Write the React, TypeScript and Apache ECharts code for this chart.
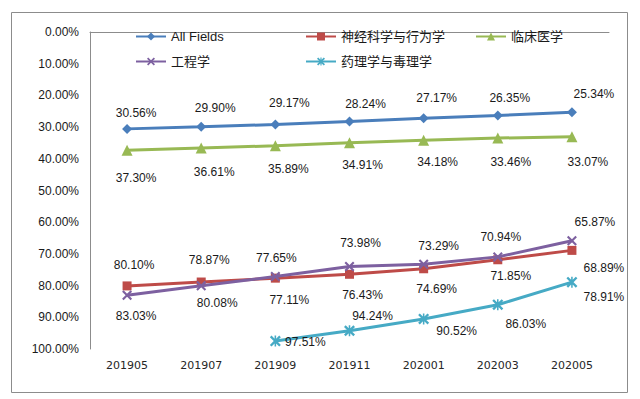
import React, { useEffect, useRef } from "react";
import * as echarts from "echarts";

const categories = ["201905", "201907", "201909", "201911", "202001", "202003", "202005"];
const seriesNames = ["All Fields", "神经科学与行为学", "临床医学", "工程学", "药理学与毒理学"];
const allFields = [30.56, 29.9, 29.17, 28.24, 27.17, 26.35, 25.34];
const neuro = [80.1, 78.87, 77.65, 76.43, 74.69, 71.85, 68.89];
const clinical = [37.3, 36.61, 35.89, 34.91, 34.18, 33.46, 33.07];
const engineering = [83.03, 80.08, 77.11, 73.98, 73.29, 70.94, 65.87];
const pharma = [null, null, 97.51, 94.24, 90.52, 86.03, 78.91];
const yTicks = { min: 0, max: 100, interval: 10 };

// label offsets (layout only), relative to each point
const offsets: Record<string, number[][]> = {
  "All Fields": [[9, -16], [14, -19], [14, -21], [16, -18], [13, -20], [12, -18], [22, -18]],
  "神经科学与行为学": [[7, -21], [8, -22], [1, -20], [13, 21], [13, 20], [13, 16], [32, 18]],
  "临床医学": [[9, 28], [13, 24], [13, 23], [13, 22], [14, 22], [13, 24], [16, 25]],
  "工程学": [[9, 21], [16, 17], [14, 24], [11, -24], [15, -18], [3, -20], [23, -19]],
  "药理学与毒理学": [[0, 0], [0, 0], [30, 1], [23, -15], [33, 12], [28, 19], [32, 15]],
};

const colors = ["#4A7EBB", "#BE4B48", "#98B954", "#7D60A0", "#46AAC5"];
const symbols = [
  "diamond",
  "rect",
  "triangle",
  "path://M0,1.5L1.5,0L5,3.5L8.5,0L10,1.5L6.5,5L10,8.5L8.5,10L5,6.5L1.5,10L0,8.5L3.5,5Z",
  "path://M0,1.5L1.5,0L5,3.5L8.5,0L10,1.5L6.5,5L10,8.5L8.5,10L5,6.5L1.5,10L0,8.5L3.5,5ZM4.3,0H5.7V10H4.3Z",
];
const symbolSizes = [10, 9, 11, 10, 11];

export default function App() {
  const ref = useRef<HTMLDivElement>(null);
  useEffect(() => {
    if (!ref.current) return;
    const chart = echarts.init(ref.current, null, { renderer: "svg" });
    const values = [allFields, neuro, clinical, engineering, pharma];
    const series = seriesNames.map((name, i) => ({
      name,
      type: "line",
      data: values[i].map((v, j) =>
        v == null
          ? null
          : { value: v, label: { offset: offsets[name][j] } }
      ),
      symbol: symbols[i],
      symbolSize: symbolSizes[i],
      lineStyle: { color: colors[i], width: 3 },
      itemStyle: { color: colors[i] },
      label: {
        show: true,
        position: "inside",
        color: "#1a1a1a",
        fontSize: 12,
        fontFamily: "Liberation Sans, Arial, sans-serif",
        formatter: (p: any) => `${Number(p.value).toFixed(2)}%`,
      },
      z: 2 + i,
    }));
    const legendText = {
      fontSize: 13,
      color: "#1a1a1a",
      fontFamily: "Liberation Sans, Noto Sans CJK SC, sans-serif",
    };
    const legendBase = {
      orient: "vertical",
      top: 30,
      itemWidth: 30,
      itemHeight: 10,
      itemGap: 12,
      textStyle: legendText,
      padding: 0,
    };
    chart.setOption({
      animation: false,
      backgroundColor: "#ffffff",
      color: colors,
      graphic: [
        {
          type: "rect",
          shape: { x: 11.5, y: 12.5, width: 616, height: 380 },
          style: { fill: "none", stroke: "#8c8c8c", lineWidth: 1 },
          silent: true,
        },
      ],
      legend: [
        { ...legendBase, left: 135, data: [seriesNames[0], seriesNames[3]] },
        { ...legendBase, left: 305, data: [seriesNames[1], seriesNames[4]] },
        { ...legendBase, left: 475, data: [seriesNames[2]] },
      ],
      grid: { left: 90, right: 31, top: 32, bottom: 50 },
      xAxis: {
        type: "category",
        data: categories,
        boundaryGap: true,
        axisLine: { show: true, lineStyle: { color: "#8c8c8c", width: 1 } },
        axisTick: { show: false },
        axisLabel: {
          margin: 11,
          fontSize: 11,
          color: "#262626",
          fontFamily: "DejaVu Sans, sans-serif",
        },
        splitLine: { show: false },
      },
      yAxis: {
        type: "value",
        inverse: true,
        min: yTicks.min,
        max: yTicks.max,
        interval: yTicks.interval,
        axisLine: { show: true, lineStyle: { color: "#8c8c8c", width: 1 } },
        axisTick: { show: false },
        splitLine: { show: false },
        axisLabel: {
          margin: 11,
          fontSize: 12,
          color: "#1a1a1a",
          fontFamily: "Liberation Sans, Arial, sans-serif",
          formatter: (v: number) => `${v.toFixed(2)}%`,
        },
      },
      series,
    });
    return () => chart.dispose();
  }, []);
  return (
    <div
      ref={ref}
      style={{ position: "absolute", left: 0, top: 0, width: 640, height: 399 }}
    />
  );
}
